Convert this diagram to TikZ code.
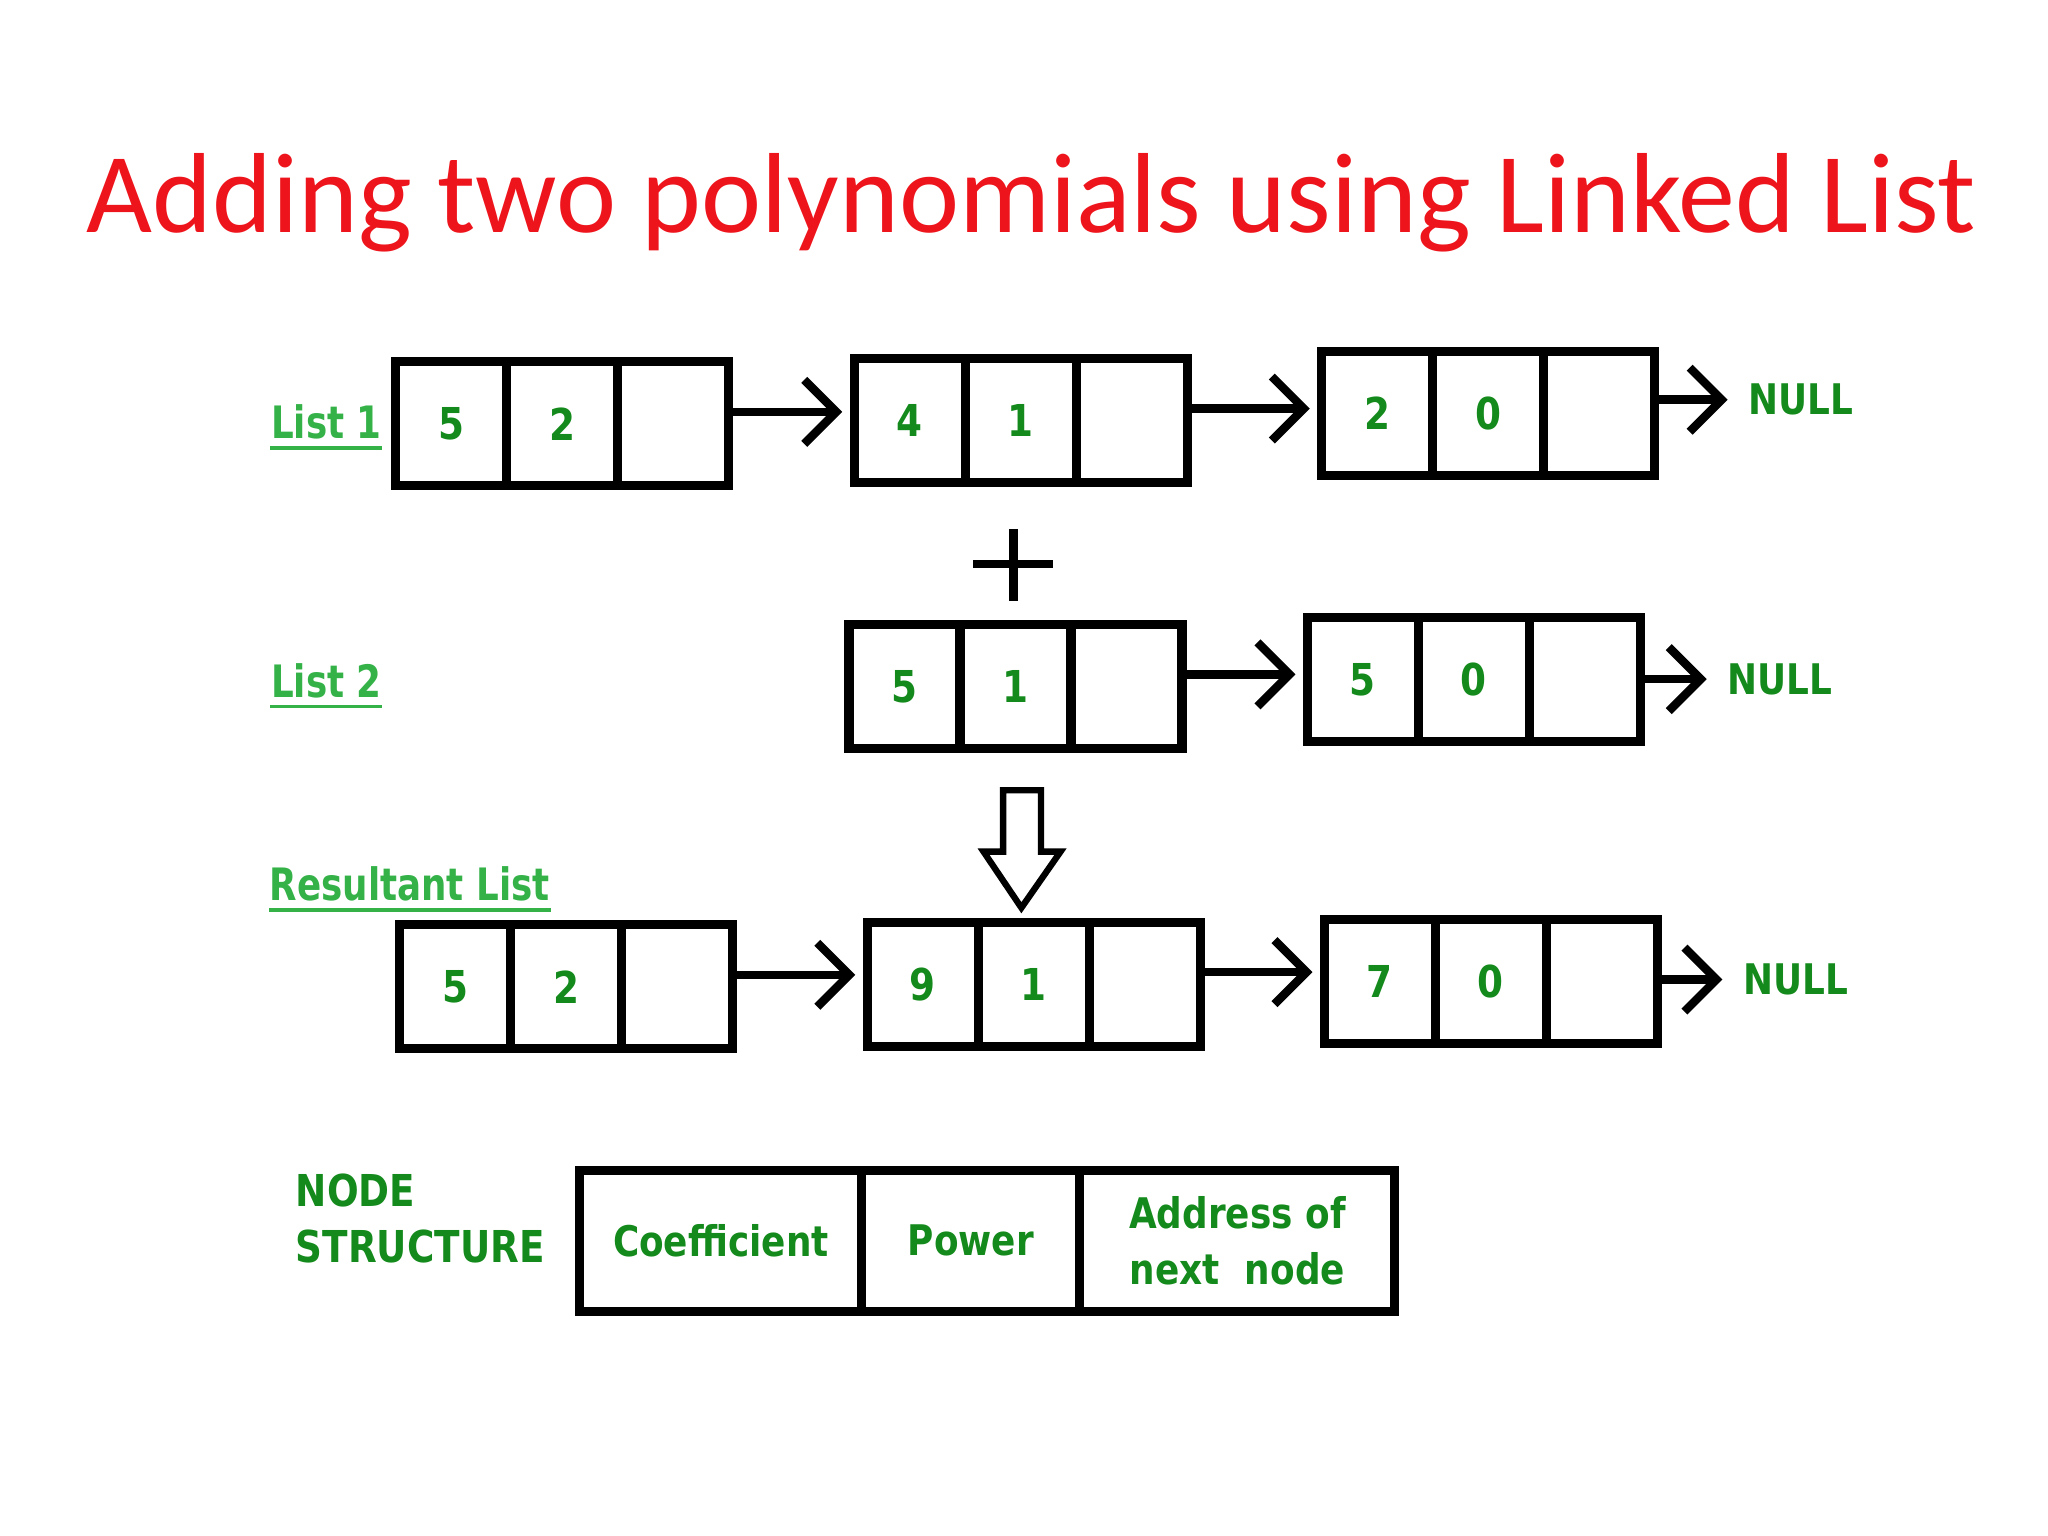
\documentclass[tikz,border=0pt]{standalone}
\usepackage{fontspec}
\setmainfont{Carlito}
\newfontfamily\greenfont{DejaVu Sans}[FakeStretch=0.85]
\newfontfamily\labelfont{DejaVu Sans}[FakeStretch=0.8]
\usetikzlibrary{arrows.meta,positioning}

\definecolor{titlered}{RGB}{238,20,28}
\definecolor{numgreen}{RGB}{20,138,28}
\definecolor{labelgreen}{RGB}{52,178,72}

\tikzset{
  polycell/.style={draw, line width=2.6pt, minimum width=1.11cm, minimum height=1.24cm,
    inner sep=0pt, outer sep=0pt, text=numgreen, font=\greenfont\bfseries\fontsize{12.5}{14}\selectfont},
  structcell/.style={draw, line width=2.6pt, minimum height=1.41cm, inner sep=0pt, outer sep=0pt,
    align=center, text=numgreen, font=\greenfont\bfseries\fontsize{12}{16}\selectfont},
  nulltext/.style={anchor=west, inner sep=0pt, text=numgreen, font=\greenfont\bfseries\fontsize{12}{14}\selectfont},
  listlabel/.style={anchor=west, inner sep=0pt, text=labelgreen, font=\labelfont\bfseries\fontsize{12.7}{15}\selectfont},
  nextlink/.style={line width=2.4pt, shorten >=0.12cm, -{Straight Barb[length=3.2mm,width=6.4mm]}},
}

% one list node: coefficient, power, next pointer
\newcommand{\polynode}[5]{%
  \node[polycell, anchor=west] (#1-c) at (#2,#3) {#4};
  \node[polycell, right=0pt of #1-c] (#1-p) {#5};
  \node[polycell, right=0pt of #1-p] (#1-n) {};
}

\begin{document}
\begin{tikzpicture}[x=0.01306cm, y=-0.01306cm]
	\useasboundingbox (0,0) rectangle (1568,1176);
	\node[text=titlered, font=\fontsize{32.4}{40}\selectfont, anchor=base] (title) at (790,178) {Adding two polynomials using Linked List};
	% the three lists
	\foreach \nm/\x/\y/\c/\p in {l1a/303/324.5/5/2, l1b/654/322/4/1, l1c/1012/316.5/2/0,
		l2a/650/525.5/5/1, l2b/1001/520.5/5/0,
		rsa/306/755.5/5/2, rsb/664/753.5/9/1, rsc/1014/751.5/7/0}
		\polynode{\nm}{\x}{\y}{\c}{\p};
	\foreach \a/\b in {l1a/l1b, l1b/l1c, l2a/l2b, rsa/rsb, rsb/rsc}
		\draw[nextlink] ([yshift=0.12cm]\a-n.east) -- ([yshift=0.12cm]\a-n.east -| \b-c.west);
	% NULL ends
	\node[nulltext] (l1null) at (1338,306) {NULL};
	\node[nulltext] (l2null) at (1322,520) {NULL};
	\node[nulltext] (rsnull) at (1334,750) {NULL};
	\foreach \a/\b in {l1c/l1null, l2b/l2null, rsc/rsnull}
		\draw[nextlink, shorten >=0.2cm] (\a-n.east |- \b.west) -- (\b.west);
	% labels
	\node[listlabel] (lst1) at (207,323) {List 1};
	\node[listlabel] (lst2) at (207,521) {List 2};
	\node[listlabel] (lstr) at (206,677) {Resultant List};
	\foreach \l in {lst1,lst2,lstr}
		\draw[labelgreen, line width=1pt] ([yshift=-0.08cm]\l.south west) -- ([yshift=-0.08cm]\l.south east);
	% plus and down arrow
	\draw[line width=2.4pt] (745,432) -- (806,432) (776,405) -- (776,460);
	\draw[line width=1.8pt] (768,605) -- (797,605) -- (797,652) -- (812,652) -- (782,695) -- (753,652) -- (768,652) -- cycle;
	% node structure
	\node[anchor=west, inner sep=0pt, align=left, text=numgreen, font=\greenfont\bfseries\fontsize{12.5}{16}\selectfont] (structlbl) at (226,933) {NODE\\STRUCTURE};
	\node[structcell, minimum width=2.82cm, anchor=west] (coef) at (444,950) {Coefficient};
	\node[structcell, minimum width=2.18cm, right=0pt of coef] (power) {Power};
	\node[structcell, minimum width=3.15cm, right=0pt of power] (addr) {Address of\\next\ \ node};
\end{tikzpicture}
\end{document}
